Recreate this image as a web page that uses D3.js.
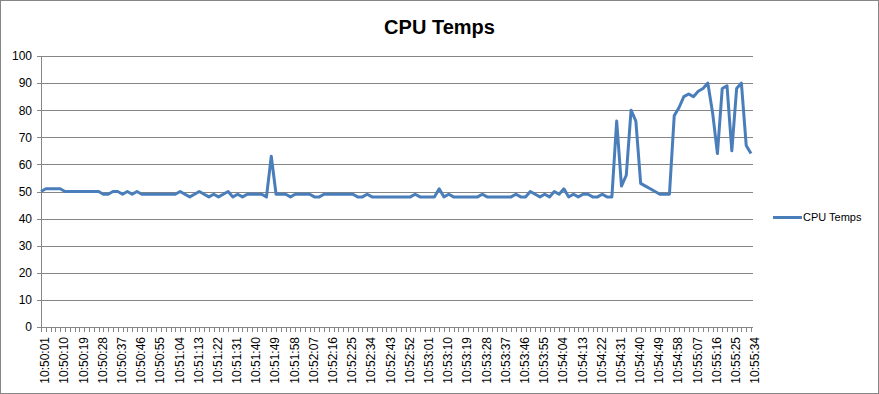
<!DOCTYPE html>
<html>
<head>
<meta charset="utf-8">
<script src="https://cdn.jsdelivr.net/npm/d3@7"></script>
<style>
  body { margin: 0; background: #fff; }
  svg { display: block; }
</style>
</head>
<body>
<svg id="chart"></svg>
<script>
// labels shown on the category axis (every 4th sample)
const tickLabels = ["10:50:01","10:50:10","10:50:19","10:50:28","10:50:37","10:50:46","10:50:55",
  "10:51:04","10:51:13","10:51:22","10:51:31","10:51:40","10:51:49","10:51:58",
  "10:52:07","10:52:16","10:52:25","10:52:34","10:52:43","10:52:52",
  "10:53:01","10:53:10","10:53:19","10:53:28","10:53:37","10:53:46","10:53:55",
  "10:54:04","10:54:13","10:54:22","10:54:31","10:54:40","10:54:49","10:54:58",
  "10:55:07","10:55:16","10:55:25","10:55:34"];

// one value per sample
const cpuTemps = [
  50,51,51,51,51,50,50,50,50,50,50,50,50,49,49,50,50,49,50,49,
  50,49,49,49,49,49,49,49,49,50,49,48,49,50,49,48,49,48,49,50,
  48,49,48,49,49,49,49,48,63,49,49,49,48,49,49,49,49,48,48,49,
  49,49,49,49,49,49,48,48,49,48,48,48,48,48,48,48,48,48,49,48,
  48,48,48,51,48,49,48,48,48,48,48,48,49,48,48,48,48,48,48,49,
  48,48,50,49,48,49,48,50,49,51,48,49,48,49,49,48,48,49,48,48,
  76,52,56,80,76,53,52,51,50,49,49,49,78,81,85,86,85,87,88,90,
  79,64,88,89,65,88,90,67,64
];

const seriesName = "CPU Temps";
const yTicks = [0,10,20,30,40,50,60,70,80,90,100];

const config = {
  width: 879, height: 394,
  left: 41, right: 751, top: 56, bottom: 327,
  gridRight: 753
};
const lineColor = "#4a7ebb";
const axisColor = "#868686";
const labelFont = "'Liberation Sans', Arial, sans-serif";

const svg = d3.select("#chart")
  .attr("width", config.width)
  .attr("height", config.height);

// chart area border
svg.append("rect")
  .attr("x", 0.5).attr("y", 0.5)
  .attr("width", config.width - 1).attr("height", config.height - 1)
  .attr("fill", "#fff")
  .attr("stroke", axisColor);

// title
svg.append("text")
  .attr("x", 439.5).attr("y", 34)
  .attr("text-anchor", "middle")
  .style("font-family", labelFont)
  .style("font-weight", "bold")
  .style("font-size", "20px")
  .text("CPU Temps");

const xScale = d3.scaleLinear()
  .domain([0, cpuTemps.length - 1])
  .range([config.left, config.right]);

const yScale = d3.scaleLinear()
  .domain([0, 100])
  .range([config.bottom, config.top]);

// gridlines
const grid = svg.append("g")
  .attr("transform", `translate(${config.left},0)`)
  .call(d3.axisRight(yScale).tickValues(yTicks)
    .tickSize(config.gridRight - config.left).tickFormat(""));
grid.select(".domain").remove();
grid.selectAll("line").attr("stroke", axisColor).attr("shape-rendering", "crispEdges");

// y axis
const yAxisG = svg.append("g")
  .attr("transform", `translate(${config.left},0)`)
  .call(d3.axisLeft(yScale).tickValues(yTicks).tickSizeInner(4).tickSizeOuter(0).tickPadding(5));
yAxisG.select(".domain").attr("stroke", axisColor).attr("shape-rendering", "crispEdges");
yAxisG.selectAll("line").attr("stroke", axisColor).attr("shape-rendering", "crispEdges");
yAxisG.selectAll("text")
  .style("font-family", labelFont)
  .style("font-size", "12px")
  .attr("fill", "#000");

// x axis: a tick for every sample, a label on every 4th
const xAxisG = svg.append("g")
  .attr("transform", `translate(0,${config.bottom})`)
  .call(d3.axisBottom(xScale)
    .tickValues(d3.range(cpuTemps.length))
    .tickSizeInner(5).tickSizeOuter(0)
    .tickFormat(i => i % 4 === 0 ? tickLabels[i / 4] : ""));
xAxisG.select(".domain").attr("stroke", axisColor).attr("shape-rendering", "crispEdges");
xAxisG.selectAll("line").attr("stroke", axisColor).attr("shape-rendering", "crispEdges");
xAxisG.selectAll("text")
  .attr("transform", "rotate(-90)")
  .attr("text-anchor", "end")
  .attr("x", -10)
  .attr("y", 3.5)
  .attr("dy", "0.35em")
  .style("font-family", labelFont)
  .style("font-size", "12px")
  .attr("fill", "#000");

// the series line
const line = d3.line()
  .x((d, i) => xScale(i))
  .y(d => yScale(d));

svg.append("path")
  .datum(cpuTemps)
  .attr("fill", "none")
  .attr("stroke", lineColor)
  .attr("stroke-width", 3)
  .attr("stroke-linejoin", "round")
  .attr("d", line);

// legend
const legend = svg.append("g").attr("transform", "translate(773,217.5)");
legend.append("line")
  .attr("x1", 0).attr("x2", 29)
  .attr("stroke", lineColor)
  .attr("stroke-width", 3);
legend.append("text")
  .attr("x", 30).attr("dy", "0.35em")
  .style("font-family", labelFont)
  .style("font-size", "11px")
  .text(seriesName);
</script>
</body>
</html>
